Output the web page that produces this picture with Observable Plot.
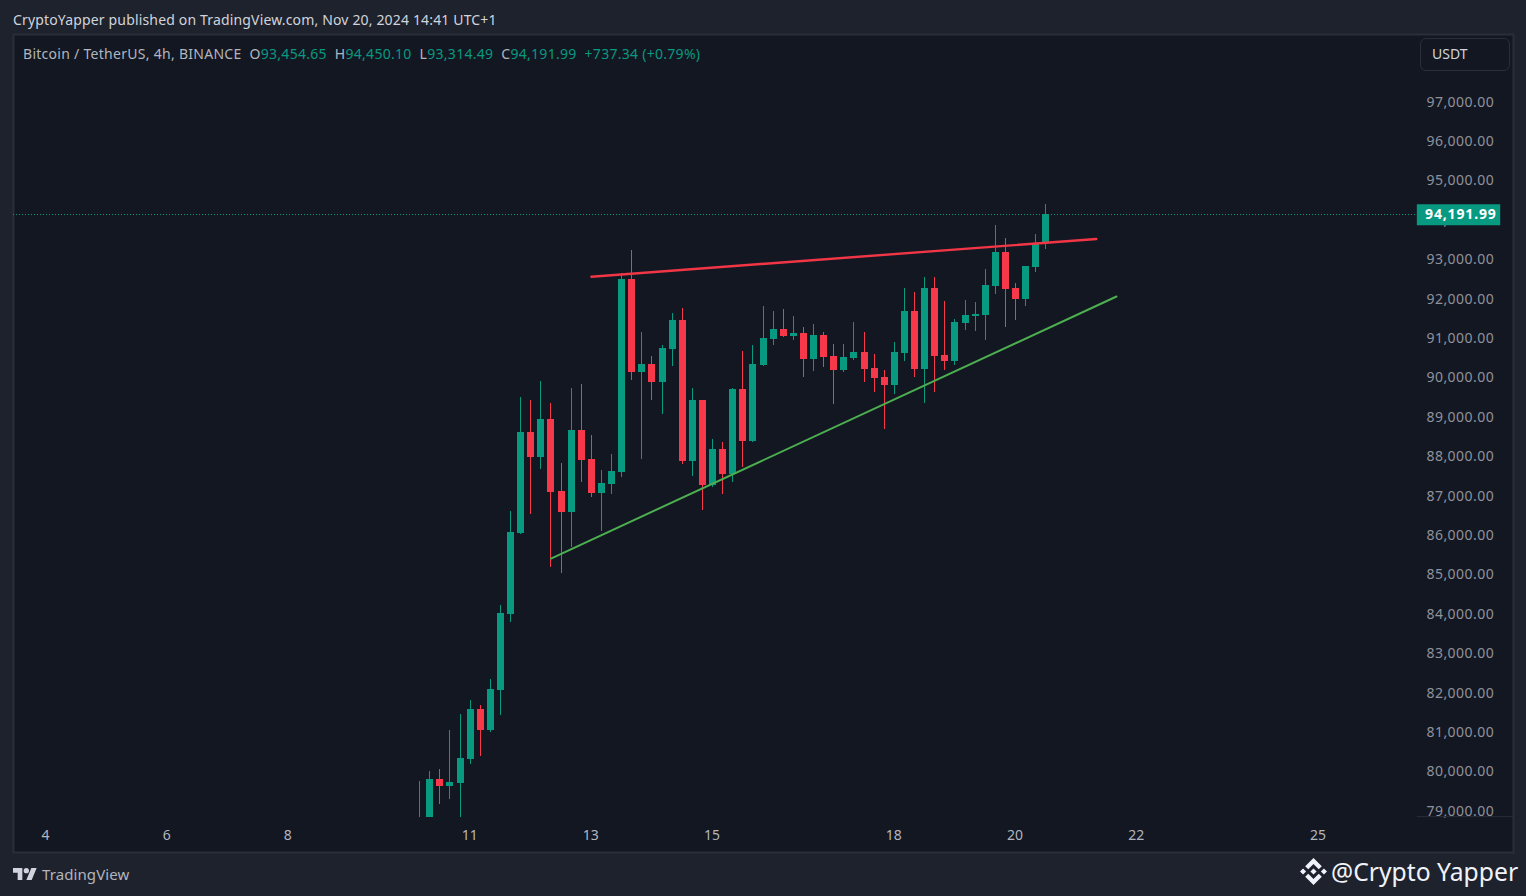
<!DOCTYPE html>
<html><head><meta charset="utf-8">
<script src="https://cdn.jsdelivr.net/npm/d3@7"></script>
<script src="https://cdn.jsdelivr.net/npm/@observablehq/plot@0.6"></script>
<style>
html,body{margin:0;padding:0;background:#1e222d;width:1526px;height:896px;overflow:hidden}
body{position:relative;font-family:"Noto Sans",sans-serif}
#plot{position:absolute;left:0;top:0}
.o{position:absolute;white-space:nowrap;line-height:1}
.g{color:#089981}
.s{margin-left:8px}
g[aria-label="y-axis tick label"]{letter-spacing:.45px}
g[aria-label="text"] text{letter-spacing:.85px}
</style></head><body>
<div id="plot"></div>
<div class="o" id="pub" style="left:13px;top:13px;font-size:14px;letter-spacing:.16px;color:#d1d4dc">CryptoYapper published on TradingView.com, Nov 20, 2024 14:41 UTC+1</div>
<div class="o" id="leg" style="left:23px;top:47px;font-size:14px;letter-spacing:.28px;color:#b2b5be">Bitcoin / TetherUS, 4h, BINANCE<span class="s">O</span><span class="g">93,454.65</span><span class="s">H</span><span class="g">94,450.10</span><span class="s">L</span><span class="g">93,314.49</span><span class="s">C</span><span class="g">94,191.99</span><span class="g s">+737.34 (+0.79%)</span></div>
<div class="o" style="left:1420px;top:38px;width:88px;height:31px;border:1px solid #2a2e39;border-radius:6px"></div>
<div class="o" style="left:1432px;top:47px;font-size:14px;color:#d1d4dc">USDT</div>
<svg class="o" style="left:13px;top:867px" width="24" height="14" viewBox="0 0 36 18"><path fill="#d1d4dc" d="M14 18H7V7H0V0h14v18zM28 18h-8L27.500 0h8L28 18z"/><circle fill="#d1d4dc" cx="20" cy="4" r="4"/></svg>
<div class="o" style="left:42px;top:867px;font-size:15px;letter-spacing:.1px;color:#b2b5be">TradingView</div>
<svg class="o" style="left:1300px;top:858px" width="27" height="27" viewBox="0 0 126.61 126.61"><path fill="#f0f3fa" d="M38.730 53.200l24.590-24.580 24.600 24.600 14.300-14.310L63.320 0 24.420 38.900zM0 63.310l14.300-14.310 14.310 14.310-14.310 14.300zM38.730 73.410l24.590 24.590 24.600-24.600 14.310 14.290-.01.01-38.900 38.910-38.910-38.880-.02-.02zM98 63.310l14.300-14.310 14.310 14.300-14.310 14.320zM77.830 63.300L63.320 48.780 52.590 59.510l-1.240 1.230-2.540 2.540 14.510 14.500 14.510-14.470z"/></svg>
<div class="o" style="left:1331px;top:860px;font-size:24.700px;color:#f0f3fa">@Crypto Yapper</div>
<script>
const firstBar = Date.UTC(2024, 10, 10, 4);
const barHours = 4;
const opens  = [78897,78897,79854,79676,79753,80362,81631,81098,82114,84044,86100,88665,88030,88995,87167,86633,88715,87979,87116,87344,87649,92549,90188,90391,89934,90772,91508,87928,89477,87319,88233,87598,89756,88436,90366,91026,91280,91102,91178,90518,91127,90594,90239,90543,90696,90289,90061,89858,90670,91737,90264,92321,90620,90467,91432,91610,91635,92371,93235,92321,92041,92854,93454.65];
const highs  = [79803,80057,80108,81098,81505,81860,81733,82393,84272,86659,89553,89477,89959,89401,87877,89782,89883,88588,87700,88106,92702,93285,91204,90594,90873,91686,91813,89782,89477,88487,88411,89782,90721,90873,91864,91737,91788,91610,91330,91407,91204,90899,90899,91457,91204,90645,90239,90950,92321,92219,92600,92600,91991,91534,92016,91965,92803,93920,93590,92448,92879,93692,94450.10];
const lows   = [78897,78897,79219,79346,78897,80235,80438,81048,81479,83840,86075,86583,87725,85237,85085,85745,87395,87014,86151,87090,87522,89985,87979,89477,89122,90340,87852,87547,86684,87268,87090,87395,87776,88411,90340,90873,91077,91000,90061,90213,90315,89375,90188,90493,89934,89680,88741,89629,90467,90061,89401,89680,90239,90366,91254,91229,91000,92168,91330,91508,91864,92727,93314.49];
const closes = [78897,79854,79676,79778,80387,81631,81098,82139,84069,86126,88665,88030,88995,87141,86633,88715,87954,87116,87370,87674,92549,90188,90391,89934,90797,91508,87928,89477,87319,88233,87598,89756,88436,90391,91051,91280,91102,91178,90518,91127,90569,90239,90569,90696,90264,90036,89858,90696,91737,90264,92321,90594,90467,91457,91635,91661,92397,93235,92295,92041,92879,93463,94191.99];
const falling = [2,6,11,13,14,16,17,21,23,26,28,30,32,36,38,40,41,44,45,46,49,51,52,58,59];
const lastClose = 94191.99;
const priceTicks = d3.range(79000, 98000, 1000);
const dayTicks = [4,6,8,11,13,15,18,20,22,25];
const resistance = [[Date.UTC(2024,10,13,0),92620],[Date.UTC(2024,10,21,8),93578]];
const support = [[Date.UTC(2024,10,12,8),85465],[Date.UTC(2024,10,21,16),92118]];
const labelSpan = [Date.UTC(2024,10,26,15,9),Date.UTC(2024,10,28,0,10)];
const axisFloor = 78914;

const UP = "#089981", DOWN = "#f7374a";
const bars = opens.map((o,i)=>({t:new Date(firstBar+i*barHours*3600e3),o,h:highs[i],l:lows[i],c:closes[i],col:falling.includes(i)?DOWN:UP}));
const tf = s => ({x:new Date(s[0]),y:s[1]});
const fmt = d3.format(",.2f");

const chart = Plot.plot({
  width:1526,height:896,
  marginLeft:13,marginRight:13,marginTop:34,marginBottom:44,
  style:{background:"transparent",fontFamily:"'Noto Sans',sans-serif"},
  x:{type:"utc",domain:[new Date(Date.UTC(2024,10,3,11,8)),new Date(Date.UTC(2024,10,28,5,14))]},
  y:{domain:[78003,98769]},
  marks:[
    Plot.frame({fill:"#131722",stroke:"#2a2e39",strokeWidth:2}),
    Plot.axisX({anchor:"bottom",ticks:dayTicks.map(d=>new Date(Date.UTC(2024,10,d))),tickFormat:d=>d.getUTCDate(),tickSize:0,tickPadding:-22.500,dx:-0.500,fontSize:14,fill:"#b2b5be",label:null}),
    Plot.axisY({anchor:"right",ticks:priceTicks,tickFormat:fmt,tickSize:0,tickPadding:-87,dy:-2,fontSize:14,fill:"#8f929b",label:null}),
    Plot.ruleY([axisFloor],{x1:()=>new Date(labelSpan[0]),x2:()=>new Date(Date.UTC(2024,10,28,5,14)),stroke:"#2a2e39"}),
    Plot.ruleY([lastClose],{x1:()=>new Date(Date.UTC(2024,10,3,11,8)),x2:()=>new Date(labelSpan[0]),stroke:UP,strokeDasharray:"1 2",strokeWidth:1,shapeRendering:"crispEdges"}),
    Plot.ruleX(bars,{x:"t",y1:"l",y2:"h",stroke:"col",strokeWidth:1,shapeRendering:"crispEdges"}),
    Plot.ruleX(bars,{x:"t",y1:"o",y2:"c",stroke:"col",strokeWidth:7,shapeRendering:"crispEdges"}),
    Plot.line(resistance.map(tf),{x:"x",y:"y",stroke:"#f23645",strokeWidth:2.400}),
    Plot.line(support.map(tf),{x:"x",y:"y",stroke:"#4caf50",strokeWidth:2}),
    Plot.ruleY([lastClose],{x1:()=>new Date(labelSpan[0]),x2:()=>new Date(labelSpan[1]),stroke:UP,strokeWidth:21}),
    Plot.text([lastClose],{y:d=>d,x:()=>new Date(labelSpan[1]),text:d=>fmt(d),textAnchor:"end",dx:-4,fill:"#fff",fontSize:14,fontWeight:"bold"})
  ]
});
document.getElementById("plot").append(chart);
</script></body></html>
